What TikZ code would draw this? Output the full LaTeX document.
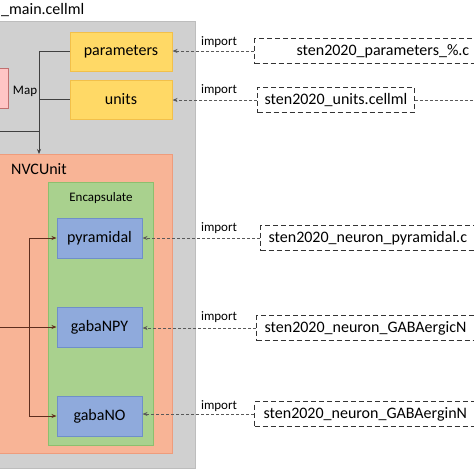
\documentclass[tikz,border=0pt]{standalone}
\usepackage{fontspec}
\setmainfont{Carlito}
\usetikzlibrary{arrows.meta}
\definecolor{graybg}{HTML}{D0D0D0}
\definecolor{grayln}{HTML}{BDBDBD}
\definecolor{paramfill}{HTML}{FFD966}
\definecolor{paramln}{HTML}{F2C04A}
\definecolor{pinkfill}{HTML}{FFC5C5}
\definecolor{pinkln}{HTML}{C07070}
\definecolor{nvcfill}{HTML}{F8B496}
\definecolor{nvcln}{HTML}{EE9C7C}
\definecolor{greenfill}{HTML}{A9D18E}
\definecolor{greenln}{HTML}{8CBF6E}
\definecolor{bluefill}{HTML}{8FAADC}
\definecolor{blueln}{HTML}{6F8FC9}
\definecolor{wire}{HTML}{404040}
\definecolor{wirein}{HTML}{5E2E1E}
\tikzset{
  big/.style={font=\fontsize{16}{19}\selectfont},
  small/.style={font=\fontsize{13}{15}\selectfont},
  yellowbox/.style={draw=paramln, fill=paramfill, line width=1pt, minimum width=102pt, minimum height=39pt, inner sep=0pt, big},
  bluebox/.style={draw=blueln, fill=bluefill, line width=1pt, minimum width=85pt, minimum height=40pt, inner sep=0pt, big},
  filebox/.style={draw=black!80, dashed, dash pattern=on 5pt off 3pt, line width=1.2pt, minimum height=25pt, inner ysep=0pt, anchor=west, big},
  longfile/.style={filebox, text width=240pt, align=left},
  importln/.style={draw=black!65, dash pattern=on 3pt off 2pt, line width=0.8pt, -{Stealth[length=5pt,width=4pt]}},
  conn/.style={draw=wire, line width=1pt},
  connarr/.style={conn, -{Stealth[length=5pt,width=4pt]}},
  inconn/.style={draw=wirein, line width=1pt},
  inarr/.style={inconn, -{Stealth[length=5pt,width=4pt]}},
  lbl/.style={small, inner sep=0pt}
}
\begin{document}
\begin{tikzpicture}[x=1pt,y=-1pt]
\useasboundingbox (0,0) rectangle (474,474);
\fill[white] (0,0) rectangle (474,474);
% title
\node[big, inner sep=0pt, anchor=west] (title) at (1,10) {\_main.cellml};
% containers
\draw[fill=graybg, draw=grayln, line width=1pt] (-20,21) rectangle (195,468);
\node[draw=pinkln, fill=pinkfill, line width=1pt, minimum width=28pt, minimum height=40pt, inner sep=0pt] (pink) at (-6,88) {};
\node[lbl] (map) at (25,91) {Map};
\draw[fill=nvcfill, draw=nvcln, line width=1pt] (-20,154) rectangle (172,453);
\coordinate (nvctop) at (39,154);
\node[big, inner sep=0pt, anchor=west] (nvclabel) at (11,169) {NVCUnit};
\draw[fill=greenfill, draw=greenln, line width=1pt] (48,182) rectangle (153,445);
\node[lbl] (enc) at (101,198) {Encapsulate};
% components
\node[yellowbox] (param) at (121,51.5) {parameters};
\node[yellowbox] (units) at (121,99.5) {units};
\node[bluebox] (pyr) at (99.5,238) {pyramidal};
\node[bluebox] (npy) at (99.5,327) {gabaNPY};
\node[bluebox] (gno) at (99.5,416) {gabaNO};
% map connectors
\coordinate (pj) at (39,51.5);
\coordinate (uj) at (39,99.5);
\coordinate (lj) at (39,131);
\coordinate (lin) at (-5,131);
\draw[conn] (param.west) -- (pj);
\draw[conn] (units.west) -- (uj);
\draw[conn] (lin) -- (lj);
\draw[connarr] (pj) -- (nvctop);
% encapsulation connectors
\coordinate (ein) at (-5,327);
\coordinate (vt) at (29,238);
\coordinate (vb) at (29,416);
\draw[inconn] (vt) -- (vb);
\draw[inarr] (ein) -- (npy.west);
\draw[inarr] (vt) -- (pyr.west);
\draw[inarr] (vb) -- (gno.west);
% file boxes
\node[longfile, inner xsep=42pt] (fparam) at (254,51) {sten2020\_parameters\_\%.c};
\node[filebox, inner xsep=7pt] (funits) at (257,100) {sten2020\_units.cellml};
\node[longfile, inner xsep=8pt] (fpyr) at (260,238) {sten2020\_neuron\_pyramidal.c};
\node[longfile, inner xsep=8pt] (fnpy) at (256,328) {sten2020\_neuron\_GABAergicN};
\node[longfile, inner xsep=9pt] (fgno) at (254,414) {sten2020\_neuron\_GABAerginN};
\coordinate (uout) at (480,100);
% imports
\draw[importln] (fparam.west) -- (param.east |- fparam.west);
\draw[importln] (funits.west) -- (units.east |- funits.west);
\draw[importln] (fpyr.west) -- (pyr.east);
\draw[importln] (fnpy.west) -- (npy.east |- fnpy.west);
\draw[importln] (fgno.west) -- (gno.east |- fgno.west);
\draw[draw=black!65, dash pattern=on 3pt off 2pt, line width=0.8pt] (funits.east) -- (uout);
\node[lbl] (i1) at (219,42) {import};
\node[lbl] (i2) at (219,90) {import};
\node[lbl] (i3) at (219,228) {import};
\node[lbl] (i4) at (219,317) {import};
\node[lbl] (i5) at (219,406) {import};
\end{tikzpicture}
\end{document}
